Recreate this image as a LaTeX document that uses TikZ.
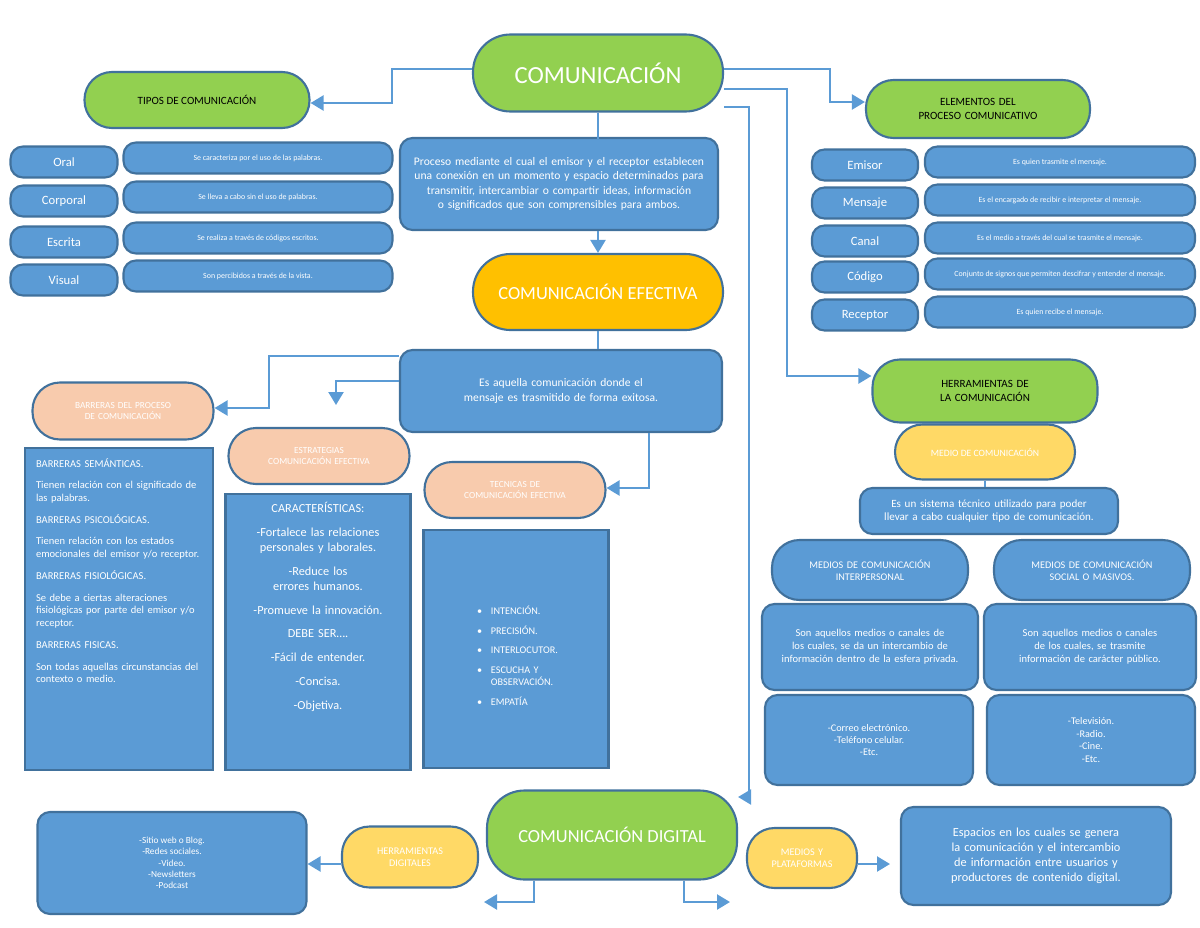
\documentclass[tikz,border=0pt]{standalone}
\usepackage{fontspec}
\setmainfont{Carlito}
\usetikzlibrary{arrows.meta}
\definecolor{bfill}{HTML}{5B9BD5}
\definecolor{bline}{HTML}{41719C}
\definecolor{gfill}{HTML}{92D050}
\definecolor{ofill}{HTML}{FFC000}
\definecolor{pfill}{HTML}{F8CBAD}
\definecolor{yfill}{HTML}{FFD966}
\newcommand{\fs}[1]{\fontsize{#1}{0}\selectfont\baselineskip=1.22\dimexpr#1pt\relax\hyphenpenalty=10000\exhyphenpenalty=10000}
\tikzset{
  sz/.style 2 args={minimum width=#1*0.02cm,minimum height=#2*0.02cm},
  box/.style={draw=bline,line width=1.2pt,fill=bfill,text=white,
    rounded corners=2.5mm,inner sep=1pt,align=center},
  pill/.style={box,rounded corners=5.5mm},
  bigpill/.style={box,rounded corners=7.5mm},
  sharp/.style={box,rounded corners=0mm},
  inbox/.style={anchor=north,inner sep=0pt,text=white},
  link/.style={draw=bfill,line width=1.3pt},
  arr/.style={link,-{Triangle[length=2.6mm,width=3mm]}},
}
\begin{document}
\begin{tikzpicture}[x=0.02cm,y=-0.02cm]
\useasboundingbox (0,0) rectangle (1200,927);
% main column
\node[bigpill,fill=gfill,sz={250}{77},font=\fs{14}] (com) at (598,73) {COMUNICACIÓN};
\node[box,sz={318}{92},text width=5.9cm,font=\fs{6.6}] (proc) at (559,184)
  {Proceso mediante el cual el emisor y el receptor establecen una conexión en un momento y espacio determinados para transmitir, intercambiar o compartir ideas, información o significados que son comprensibles para ambos.};
\node[bigpill,fill=ofill,sz={250}{76},font=\fs{10.5}] (efec) at (598,292) {COMUNICACIÓN EFECTIVA};
\node[box,sz={322}{82},text width=5.9cm,font=\fs{6.6}] (esaq) at (561,391)
  {Es aquella comunicación donde el mensaje es trasmitido de forma exitosa.};
\node[bigpill,fill=gfill,sz={250}{89},font=\fs{10.5}] (dig) at (612,835) {COMUNICACIÓN DIGITAL};
% tipos
\node[pill,fill=gfill,text=black,sz={225}{56},font=\fs{6.3}] (tipos) at (197,100) {TIPOS DE COMUNICACIÓN};
\foreach \y/\n/\t in {162/Oral/Se caracteriza por el uso de las palabras.,
    201/Corporal/Se lleva a cabo sin el uso de palabras.,
    242/Escrita/Se realiza a través de códigos escritos.,
    280/Visual/Son percibidos a través de la vista.}{
  \node[box,sz={107}{31},font=\fs{7.2}] (t\n) at (64,\y) {\n};
  \node[box,sz={269}{31},font=\fs{4.5}] (d\n) at (258,\y-4) {\t};
}
% elementos
\node[pill,fill=gfill,text=black,sz={224}{58},text width=3.6cm,font=\fs{6.3}] (elem) at (978,109) {ELEMENTOS DEL PROCESO COMUNICATIVO};
\foreach \y/\n/\t in {165/Emisor/Es quien trasmite el mensaje.,
    203/Mensaje/Es el encargado de recibir e interpretar el mensaje.,
    241/Canal/Es el medio a través del cual se trasmite el mensaje.,
    277/Código/Conjunto de signos que permiten descifrar y entender el mensaje.,
    315/Receptor/Es quien recibe el mensaje.}{
  \node[box,sz={106}{31},font=\fs{7.2}] (e\n) at (865,\y) {\n};
  \node[box,sz={270}{31},font=\fs{4.5}] (f\n) at (1060,\y-3) {\t};
}
% efectiva branches
\node[pill,fill=pfill,sz={181}{57},text width=3cm,font=\fs{5.3}] (barr) at (123,411) {BARRERAS DEL PROCESO DE COMUNICACIÓN};
\node[pill,fill=pfill,sz={181}{56},text width=3cm,font=\fs{5.3}] (estr) at (319,456) {ESTRATEGIAS COMUNICACIÓN EFECTIVA};
\node[pill,fill=pfill,sz={181}{56},text width=3cm,font=\fs{5.3}] (tecn) at (515,490) {TECNICAS DE COMUNICACIÓN EFECTIVA};
\node[sharp,sz={188}{322}] (tbarr) at (119,609) {};
\node[inbox,text width=3.4cm,align=left,font=\fs{6}] (xbarr) at (121,458)
  {BARRERAS SEMÁNTICAS.\\[5pt]Tienen relación con el significado de las palabras.\\[5pt]BARRERAS PSICOLÓGICAS.\\[5pt]Tienen relación con los estados emocionales del emisor y/o receptor.\\[5pt]BARRERAS FISIOLÓGICAS.\\[5pt]Se debe a ciertas alteraciones fisiológicas por parte del emisor y/o receptor.\\[5pt]BARRERAS FISICAS.\\[5pt]Son todas aquellas circunstancias del contexto o medio.};
\node[sharp,sz={185}{276}] (testr) at (318,632) {};
\node[inbox,text width=3cm,align=center,font=\fs{7}] (xestr) at (318,502)
  {CARACTERÍSTICAS:\\[5pt]-Fortalece las relaciones personales y laborales.\\[5pt]-Reduce los errores humanos.\\[5pt]-Promueve la innovación.\\[5pt]DEBE SER….\\[5pt]-Fácil de entender.\\[5pt]-Concisa.\\[5pt]-Objetiva.};
\node[sharp,sz={185}{238}] (ttecn) at (516,649) {};
\node[inbox,text width=3cm,align=left,font=\fs{5.8}] (xtecn) at (522,588)
  {\begin{itemize}\setlength{\itemsep}{0pt}\setlength{\parsep}{0pt}\setlength{\leftmargin}{14pt}
   \item INTENCIÓN.\item PRECISIÓN.\item INTERLOCUTOR.\item ESCUCHA Y\\ OBSERVACIÓN.\item EMPATÍA\end{itemize}};
% herramientas
\node[pill,fill=gfill,text=black,sz={225}{63},text width=3.4cm,font=\fs{6.3}] (herr) at (985,391) {HERRAMIENTAS DE LA COMUNICACIÓN};
\node[pill,fill=yfill,sz={180}{55},font=\fs{5.5}] (medio) at (985,452) {MEDIO DE COMUNICACIÓN};
\node[box,sz={258}{46},text width=4.6cm,font=\fs{6.3}] (sist) at (989,511) {Es un sistema técnico utilizado para poder llevar a cabo cualquier tipo de comunicación.};
\node[pill,sz={196}{60},text width=3.3cm,font=\fs{5.8}] (inter) at (870,570) {MEDIOS DE COMUNICACIÓN INTERPERSONAL};
\node[pill,sz={196}{60},text width=3.3cm,font=\fs{5.8}] (masiv) at (1092,570) {MEDIOS DE COMUNICACIÓN SOCIAL O MASIVOS.};
\node[box,sz={216}{86},text width=3.8cm,font=\fs{6}] (sinter) at (870,647) {Son aquellos medios o canales de los cuales, se da un intercambio de información dentro de la esfera privada.};
\node[box,sz={212}{86},text width=3.8cm,font=\fs{6}] (smasiv) at (1090,647) {Son aquellos medios o canales de los cuales, se trasmite información de carácter público.};
\node[box,sz={208}{90},font=\fs{5.8}] (linter) at (869,740) {-Correo electrónico.\\-Teléfono celular.\\-Etc.};
\node[box,sz={208}{90},font=\fs{5.8}] (lmasiv) at (1091,740) {-Televisión.\\-Radio.\\-Cine.\\-Etc.};
% digital
\node[box,sz={269}{102},font=\fs{5.3}] (ldig) at (172,863) {-Sitio web o Blog.\\-Redes sociales.\\-Video.\\-Newsletters\\-Podcast};
\node[pill,fill=yfill,sz={136}{61},text width=2cm,font=\fs{5.8}] (hdig) at (410,857) {HERRAMIENTAS DIGITALES};
\node[pill,fill=yfill,sz={110}{60},text width=1.8cm,font=\fs{5.8}] (mplat) at (802,858) {MEDIOS Y PLATAFORMAS};
\node[box,sz={270}{98},text width=4.4cm,font=\fs{7}] (esp) at (1036,856) {Espacios en los cuales se genera la comunicación y el intercambio de información entre usuarios y productores de contenido digital.};
\coordinate (ddl) at (484,902);
\coordinate (ddr) at (730,902);
% connectors
\draw[arr] (com.west |- 0,69) -| (392,103) -- (tipos.east |- 0,103);
\draw[arr] (com.east |- 0,69) -| (830,102) -- (elem.west |- 0,102);
\draw[arr] (com.east |- 0,89) -| (787,376) -- (herr.west |- 0,376);
\draw[arr] (com.south east |- 0,107) -| (749,797) -- (dig.east |- 0,797);
\draw[link] (com.south -| proc.north) ++(39,0) -- ++(0,26);
\draw[arr] (proc.south -| efec.south) -- (efec.north);
\draw[link] (efec.south) -- (esaq.north -| efec.south);
\draw[arr] (esaq.west |- 0,356) -| (269,408) -- (barr.east |- 0,408);
\draw[arr] (esaq.west |- 0,381) -| (336,405);
\draw[arr] (esaq.south -| 649,0) |- (tecn.east |- 0,488);
\draw[link] (medio.south) -- (sist.north -| medio.south);
\draw[arr] (hdig.west |- 0,864) -- (ldig.east |- 0,864);
\draw[arr] (mplat.east |- 0,864) -- (890,864);
\draw[arr] (dig.south -| 534,0) |- (ddl);
\draw[arr] (dig.south -| 684,0) |- (ddr);
\end{tikzpicture}
\end{document}
